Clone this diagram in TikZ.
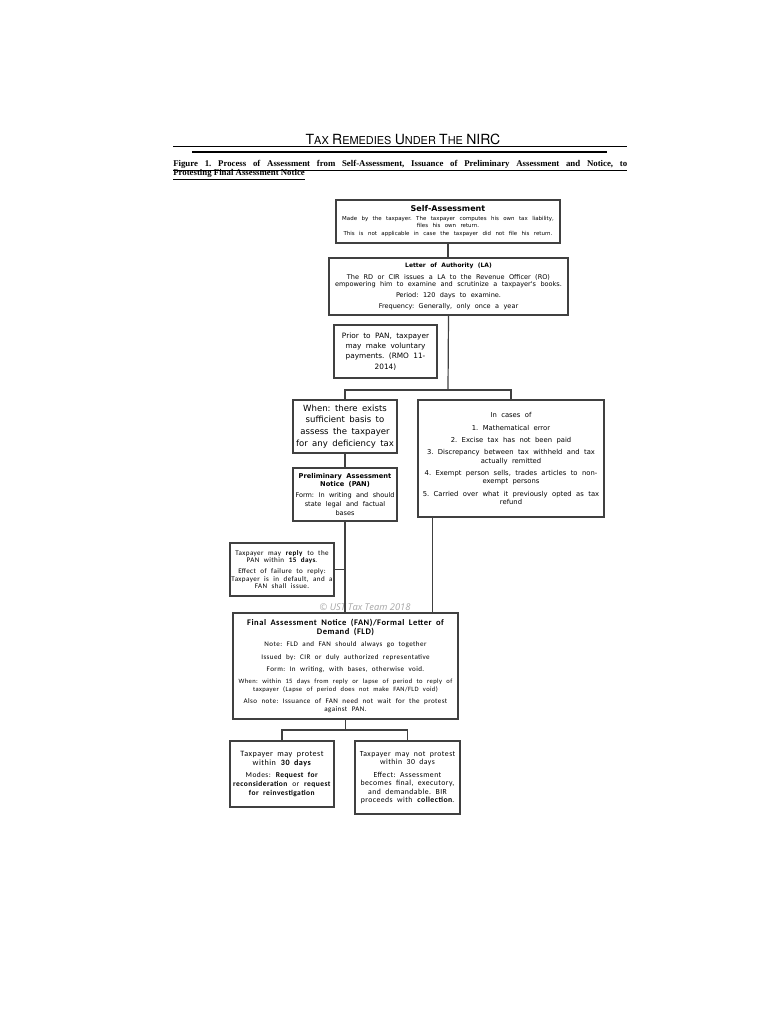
\documentclass[tikz,border=0pt]{standalone}
\usepackage{fontspec}
\usepackage{tikz}
\usetikzlibrary{positioning,calc}
\newfontfamily\bxfont{DejaVu Sans}
\newfontfamily\clfont[LetterSpace=6]{Carlito}
\newfontfamily\ttlfont{TeX Gyre Heros}
\newfontfamily\capfont{Liberation Serif}
\newfontfamily\wmfont{Open Sans}
\newcommand\fs[2]{\fontsize{#1}{#2}\selectfont}
\newcommand\tsc[2]{{\fs{10.5}{12}#1}{\fs{8.2}{12}#2}}
\newcommand\gap[1][1.8pt]{\par\vspace{#1}}
\frenchspacing
\tikzset{
  box/.style={draw=black!75,line width=0.9pt,align=center,inner sep=0.5pt,font=\bxfont},
  cbox/.style={box,font=\clfont},
  conn/.style={draw=black!75,line width=0.9pt},
}
\begin{document}
\begin{tikzpicture}[x=0.75pt,y=-0.75pt]
\useasboundingbox (0,0) rectangle (768,1024);
% heading
\node[font=\ttlfont\fs{9}{12}] (title) at (403,139) {\tsc{T}{AX} \tsc{R}{EMEDIES} \tsc{U}{NDER} \tsc{T}{HE} {\fs{10.5}{12}NIRC}};
\draw[line width=0.5pt] (173,146) -- (627,146);
\draw[line width=1.2pt] (192,152) -- (607,152);
\node[anchor=base west,inner sep=0pt,font=\capfont\bfseries\fs{6.6}{7}] (cap1) at (173,166) {\underline{\makebox[340.5pt][s]{Figure 1. Process of Assessment from Self-Assessment, Issuance of Preliminary Assessment and Notice, to}}};
\node[anchor=base west,inner sep=0pt,font=\capfont\bfseries\fs{6.6}{7}] (cap2) at (173,175) {\underline{Protesting Final Assessment Notice}};
% boxes
\node[box,minimum width=168pt,text width=167pt,minimum height=32.25pt] (sa) at (448,221.5) {\fs{6}{7}\bfseries Self-Assessment\gap
  \fs{4.1}{4.8}\mdseries Made by the taxpayer. The taxpayer computes his own tax liability,\\ files his own return.\gap
  This is not applicable in case the taxpayer did not file his return.\par};
\node[box,minimum width=179.25pt,text width=178.25pt,minimum height=42.75pt] (la) at (448.5,286.5) {\fs{4.5}{5.3}\bfseries Letter of Authority (LA)\gap[2.6pt]
  \fs{4.9}{5.8}\mdseries The RD or CIR issues a LA to the Revenue Officer (RO)\\ empowering him to examine and scrutinize a taxpayer's books.\gap[2.2pt]
  Period: 120 days to examine.\gap[2.2pt] Frequency: Generally, only once a year\par\vspace{6pt}};
\node[box,minimum width=77.25pt,text width=76.25pt,minimum height=39.75pt] (prior) at (385.5,351.5) {\fs{5.5}{7.7}Prior to PAN, taxpayer\\ may make voluntary\\ payments. (RMO 11-\\ 2014)\par};
\node[box,minimum width=78pt,text width=77pt,minimum height=39.75pt] (when) at (345,426.5) {\fs{6.4}{8.8}When: there exists\\ sufficient basis to\\ assess the taxpayer\\ for any deficiency tax\par};
\node[box,minimum width=78pt,text width=77pt,minimum height=39.75pt] (pan) at (345,494.5) {\fs{5}{5.8}\bfseries Preliminary Assessment\\ Notice (PAN)\gap
  \fs{4.9}{6.6}\mdseries Form: In writing and should\\ state legal and factual\\ bases\par};
\node[box,minimum width=139.5pt,text width=138.5pt,minimum height=87.75pt] (cases) at (511,458.5) {\fs{5.1}{6.2}In cases of\gap[3.1pt]
  1. Mathematical error\gap[3.1pt] 2. Excise tax has not been paid\gap[3.1pt]
  3. Discrepancy between tax withheld and tax\\ actually remitted\gap[3.1pt]
  4. Exempt person sells, trades articles to non-\\ exempt persons\gap[3.1pt]
  5. Carried over what it previously opted as tax\\ refund\par\vspace{2pt}};
\node[cbox,minimum width=78pt,text width=77pt,minimum height=39.75pt] (reply) at (282,569.5) {\fs{5.3}{5.9}Taxpayer may \textbf{reply} to the\\ PAN within \textbf{15 days}.\gap
  Effect of failure to reply:\\ Taxpayer is in default, and a\\ FAN shall issue.\par};
\node[font=\wmfont\itshape\fs{7}{8},text=black!35] (wm) at (365,607) {© UST Tax Team 2018};
\node[cbox,minimum width=168.75pt,text width=167.75pt,minimum height=79.5pt] (fan) at (345.5,666) {\fs{6.4}{6.6}\bfseries Final Assessment Notice (FAN)/Formal Letter of\\ Demand (FLD)\gap[3.4pt]
  \fs{5.3}{5.8}\mdseries Note: FLD and FAN should always go together\gap[3.4pt]
  Issued by: CIR or duly authorized representative\gap[3.4pt]
  Form: In writing, with bases, otherwise void.\gap[3.4pt]
  \fs{4.9}{5.8}When: within 15 days from reply or lapse of period to reply of\\ taxpayer (Lapse of period does not make FAN/FLD void)\gap[3.4pt]
  \fs{5.3}{5.8}Also note: Issuance of FAN need not wait for the protest\\ against PAN.\par};
\node[cbox,minimum width=78pt,text width=77pt,minimum height=49.5pt] (protest) at (282,774) {\fs{6.1}{6.6}Taxpayer may protest\\ within \textbf{30 days}\gap[2.2pt]
  \fs{5.6}{6.9}Modes: \textbf{Request for}\\ \textbf{reconsideration} or \textbf{request}\\ \textbf{for reinvestigation}\par};
\node[cbox,minimum width=78.75pt,text width=77.75pt,minimum height=54.75pt] (notprot) at (407.5,777.5) {\fs{5.8}{6.2}Taxpayer may not protest\\ within 30 days\gap[3.5pt]
  Effect: Assessment\\ becomes final, executory,\\ and demandable. BIR\\ proceeds with \textbf{collection}.\par};
% connectors
\coordinate (split) at (448,390);
\coordinate (fork) at (345.5,730);
\draw[conn] (sa.south) -- (sa.south |- la.north);
\draw[conn] (la.south) -- (split);
\draw[conn] (when.north) |- (split) -| (cases.north);
\draw[conn] (when) -- (pan);
\draw[conn] (pan.south) -- (pan.south |- fan.north);
\draw[conn] (reply.east) -- (reply.east -| pan.south);
\draw[conn] ([xshift=11.25pt]cases.south west) -- ([xshift=11.25pt]cases.south west |- fan.north);
\draw[conn] (fan.south) -- (fork);
\draw[conn] (protest.north) |- (fork) -| (notprot.north);
\end{tikzpicture}
\end{document}
